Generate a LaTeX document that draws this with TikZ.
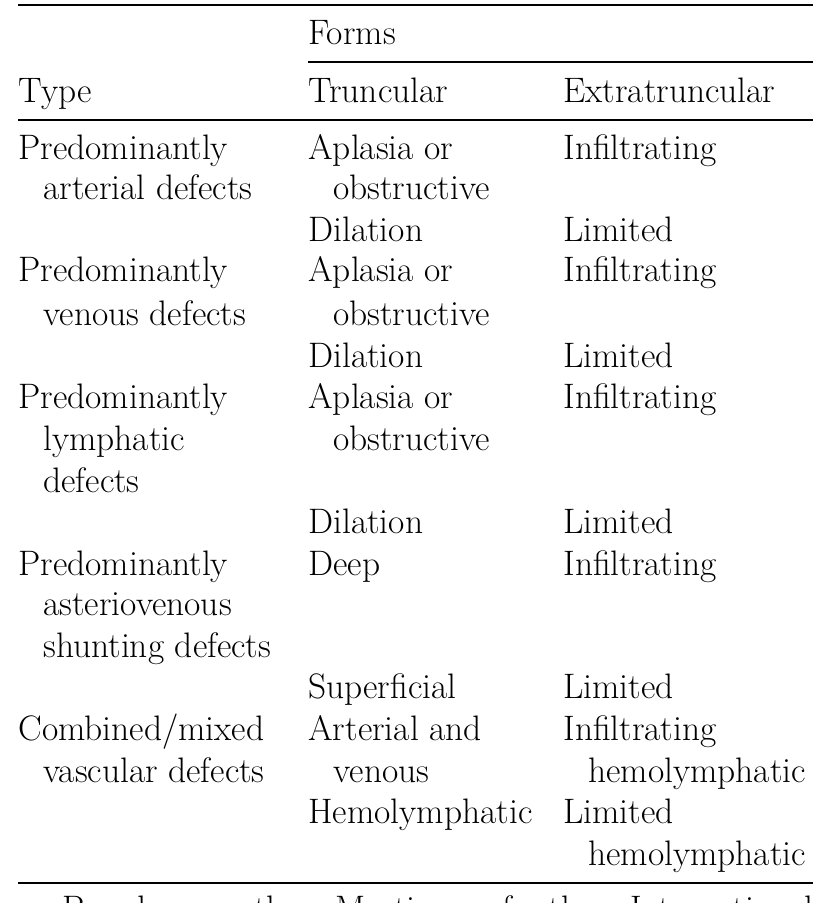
\documentclass[tikz,border=0pt]{standalone}
\begin{document}
\begin{tikzpicture}[x=0.5pt,y=-0.5pt,
  cell/.style={anchor=base west,inner sep=0pt,font=\fontsize{17.7}{20}\selectfont},
  rule/.style={line width=1pt}]
\useasboundingbox (0,0) rectangle (825,903);
\clip (0,0) rectangle (825,903);
\draw[rule] (18,5) coordinate (t1) -- (813,5) coordinate (t2);
\draw[rule] (308,62) coordinate (f1) -- (813,62) coordinate (f2);
\draw[rule] (18,120) coordinate (h1) -- (813,120) coordinate (h2);
\draw[rule] (18,883) coordinate (b1) -- (813,883) coordinate (b2);
\node[cell] (forms) at (308,45) {Forms};
\node[cell] (type) at (18,103) {Type};
\node[cell] (trunc) at (308,103) {Truncular};
\node[cell] (extra) at (563,103) {Extratruncular};
% rows
\foreach \y/\a/\b/\c [count=\i] in {
160/Predominantly/Aplasia or/Infiltrating,
200/\hspace{12.5pt}arterial defects/\hspace{12.5pt}obstructive/,
242//Dilation/Limited,
282/Predominantly/Aplasia or/Infiltrating,
325/\hspace{12.5pt}venous defects/\hspace{12.5pt}obstructive/,
367//Dilation/Limited,
408/Predominantly/Aplasia or/Infiltrating,
450/\hspace{12.5pt}lymphatic/\hspace{12.5pt}obstructive/,
492/\hspace{12.5pt}defects//,
533//Dilation/Limited,
575/Predominantly/Deep/Infiltrating,
615/\hspace{12.5pt}asteriovenous//,
657/\hspace{12.5pt}shunting defects//,
698//Superficial/Limited,
740/{Combined/mixed}/Arterial and/Infiltrating,
782/\hspace{12.5pt}vascular defects/\hspace{12.5pt}venous/\hspace{12.5pt}hemolymphatic,
823//Hemolymphatic/Limited,
865///\hspace{12.5pt}hemolymphatic}{
  \node[cell] (a\i) at (18,\y) {\a};
  \node[cell] (b\i) at (308,\y) {\b};
  \node[cell] (c\i) at (563,\y) {\c};
}
\node[cell,text width=397.5pt,align=justify] (note) at (18,920) {\hspace{22pt}Based\hfill on\hfill the\hfill Meeting\hfill of\hfill the\hfill International};
\end{tikzpicture}
\end{document}
